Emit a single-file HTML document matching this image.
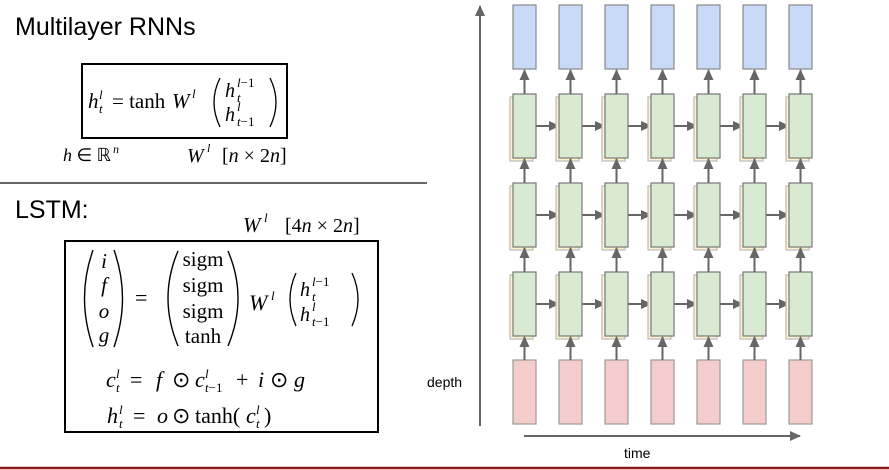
<!DOCTYPE html>
<html><head><meta charset="utf-8"><style>
html,body{margin:0;padding:0;background:#fff;}
svg{display:block;}
.s{font-family:"Liberation Sans",sans-serif;}
.m{font-family:"Liberation Serif",serif;}
.i{font-style:italic;}
</style></head><body>
<svg width="889" height="470" viewBox="0 0 889 470" xmlns="http://www.w3.org/2000/svg">
<defs>
<marker id="ah" markerWidth="11" markerHeight="10" refX="10" refY="5" orient="auto" markerUnits="userSpaceOnUse">
<path d="M0,0 L11,5 L0,10 z" fill="#666"/></marker>
<g id="col">
<rect x="513" y="5" width="23" height="64" fill="#c9daf8" stroke="#888" stroke-width="1.2"/>
<rect x="513" y="360" width="23" height="64" fill="#f4cccc" stroke="#999" stroke-width="1.2"/>
<rect x="510" y="97" width="23" height="64" fill="#fff2cc" stroke="#bbb" stroke-width="1.2"/>
<rect x="513" y="94" width="23" height="64" fill="#d9ead3" stroke="#777" stroke-width="1.2"/>
<rect x="510" y="186" width="23" height="64" fill="#fff2cc" stroke="#bbb" stroke-width="1.2"/>
<rect x="513" y="183" width="23" height="64" fill="#d9ead3" stroke="#777" stroke-width="1.2"/>
<rect x="510" y="275" width="23" height="64" fill="#fff2cc" stroke="#bbb" stroke-width="1.2"/>
<rect x="513" y="272" width="23" height="64" fill="#d9ead3" stroke="#777" stroke-width="1.2"/>
<g stroke="#666" stroke-width="2" marker-end="url(#ah)">
<line x1="524.5" y1="360" x2="524.5" y2="337"/>
<line x1="524.5" y1="272" x2="524.5" y2="248"/>
<line x1="524.5" y1="183" x2="524.5" y2="159"/>
<line x1="524.5" y1="94" x2="524.5" y2="70"/>
</g>
</g>
<g id="harr" stroke="#666" stroke-width="2" marker-end="url(#ah)">
<line x1="536" y1="126" x2="559" y2="126"/>
<line x1="536" y1="215" x2="559" y2="215"/>
<line x1="536" y1="304" x2="559" y2="304"/>
</g>
</defs>
<text x="15" y="35" class="s" font-size="25">Multilayer RNNs</text>
<rect x="82" y="64" width="205" height="74" fill="none" stroke="#000" stroke-width="2"/>
<g class="m">
<text x="88" y="108" font-size="21" class="i">h</text>
<text x="99" y="99" font-size="13" class="i">l</text>
<text x="99" y="113" font-size="13" class="i">t</text>
<text x="112" y="108" font-size="21">= tanh</text>
<text x="172" y="108" font-size="21" class="i">W</text>
<text x="192" y="98" font-size="13" class="i">l</text>
<path d="M220,78 Q208,102 220,127" fill="none" stroke="#000" stroke-width="1.3"/>
<path d="M270,78 Q282,102 270,127" fill="none" stroke="#000" stroke-width="1.3"/>
<text x="225" y="97" font-size="20" class="i">h</text>
<text x="237" y="87" font-size="13"><tspan class="i">l</tspan>−1</text>
<text x="237" y="102" font-size="13" class="i">t</text>
<text x="225" y="121" font-size="20" class="i">h</text>
<text x="237" y="111" font-size="13" class="i">l</text>
<text x="237" y="126" font-size="13"><tspan class="i">t</tspan>−1</text>
<text x="63" y="161" font-size="18"><tspan class="i">h</tspan> ∈ ℝ</text>
<text x="113" y="153" font-size="12" class="i">n</text>
<text x="187" y="162" font-size="20" class="i">W</text>
<text x="207" y="152" font-size="12" class="i">l</text>
<text x="222" y="162" font-size="20">[<tspan class="i">n</tspan> × 2<tspan class="i">n</tspan>]</text>
</g>
<line x1="0" y1="183" x2="427" y2="183" stroke="#666" stroke-width="2"/>
<text x="15" y="218" class="s" font-size="25">LSTM:</text>
<g class="m">
<text x="243" y="232" font-size="21" class="i">W</text>
<text x="264" y="222" font-size="13" class="i">l</text>
<text x="285" y="232" font-size="20">[4<tspan class="i">n</tspan> × 2<tspan class="i">n</tspan>]</text>
</g>
<rect x="65" y="241" width="313" height="191" fill="none" stroke="#000" stroke-width="2"/>
<g class="m">
<path d="M93,250 Q76,298 93,347" fill="none" stroke="#000" stroke-width="1.4"/>
<path d="M114,250 Q131,298 114,347" fill="none" stroke="#000" stroke-width="1.4"/>
<text x="104" y="268" font-size="21" text-anchor="middle" class="i">i</text>
<text x="104" y="292" font-size="21" text-anchor="middle" class="i">f</text>
<text x="104" y="318" font-size="21" text-anchor="middle" class="i">o</text>
<text x="104" y="342" font-size="21" text-anchor="middle" class="i">g</text>
<text x="135" y="305" font-size="22">=</text>
<path d="M178,251 Q158,298 178,346" fill="none" stroke="#000" stroke-width="1.4"/>
<path d="M228,251 Q248,298 228,346" fill="none" stroke="#000" stroke-width="1.4"/>
<text x="203" y="266" font-size="21" text-anchor="middle">sigm</text>
<text x="203" y="292" font-size="21" text-anchor="middle">sigm</text>
<text x="203" y="318" font-size="21" text-anchor="middle">sigm</text>
<text x="203" y="343" font-size="21" text-anchor="middle">tanh</text>
<text x="249" y="310" font-size="22" class="i">W</text>
<text x="271" y="300" font-size="13" class="i">l</text>
<path d="M296,273 Q284,299 296,326" fill="none" stroke="#000" stroke-width="1.3"/>
<path d="M352,273 Q364,299 352,326" fill="none" stroke="#000" stroke-width="1.3"/>
<text x="300" y="296" font-size="20" class="i">h</text>
<text x="312" y="286" font-size="13"><tspan class="i">l</tspan>−1</text>
<text x="312" y="301" font-size="13" class="i">t</text>
<text x="300" y="321" font-size="20" class="i">h</text>
<text x="312" y="311" font-size="13" class="i">l</text>
<text x="312" y="326" font-size="13"><tspan class="i">t</tspan>−1</text>
<text x="106" y="387" font-size="22" class="i">c</text>
<text x="116" y="378" font-size="13" class="i">l</text>
<text x="116" y="392" font-size="13" class="i">t</text>
<text x="130" y="387" font-size="22">=</text>
<text x="156" y="387" font-size="22" class="i">f</text>
<text x="172" y="387" font-size="22">⊙</text>
<text x="195" y="387" font-size="22" class="i">c</text>
<text x="205" y="378" font-size="13" class="i">l</text>
<text x="205" y="392" font-size="13"><tspan class="i">t</tspan>−1</text>
<text x="236" y="387" font-size="22">+</text>
<text x="258" y="387" font-size="22" class="i">i</text>
<text x="270" y="387" font-size="22">⊙</text>
<text x="294" y="387" font-size="22" class="i">g</text>
<text x="107" y="423" font-size="22" class="i">h</text>
<text x="119" y="414" font-size="13" class="i">l</text>
<text x="119" y="428" font-size="13" class="i">t</text>
<text x="133" y="423" font-size="22">=</text>
<text x="157" y="423" font-size="22" class="i">o</text>
<text x="172" y="423" font-size="22">⊙</text>
<text x="195" y="423" font-size="22">tanh(</text>
<text x="246" y="423" font-size="22" class="i">c</text>
<text x="256" y="414" font-size="13" class="i">l</text>
<text x="256" y="428" font-size="13" class="i">t</text>
<text x="264" y="423" font-size="22">)</text>
</g>
<line x1="480" y1="426" x2="480" y2="6" stroke="#666" stroke-width="2" marker-end="url(#ah)"/>
<line x1="524" y1="436" x2="800" y2="436" stroke="#666" stroke-width="2" marker-end="url(#ah)"/>
<text x="427" y="387" class="s" font-size="14">depth</text>
<text x="624" y="458" class="s" font-size="14">time</text>
<use href="#harr"/>
<use href="#harr" transform="translate(46,0)"/>
<use href="#harr" transform="translate(92,0)"/>
<use href="#harr" transform="translate(138,0)"/>
<use href="#harr" transform="translate(184,0)"/>
<use href="#harr" transform="translate(230,0)"/>
<use href="#col"/>
<use href="#col" transform="translate(46,0)"/>
<use href="#col" transform="translate(92,0)"/>
<use href="#col" transform="translate(138,0)"/>
<use href="#col" transform="translate(184,0)"/>
<use href="#col" transform="translate(230,0)"/>
<use href="#col" transform="translate(276,0)"/>
<line x1="0" y1="468" x2="889" y2="468" stroke="#8b1a1a" stroke-width="2.5"/>
</svg>
</body></html>
